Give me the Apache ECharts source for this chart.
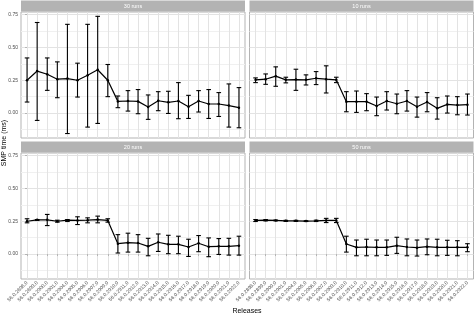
<!DOCTYPE html>
<html>
<head>
<meta charset="utf-8">
<script src="https://cdn.jsdelivr.net/npm/echarts@6/dist/echarts.min.js"></script>
<style>
  html, body { margin: 0; padding: 0; background: #ffffff; }
  #chart { width: 474px; height: 325px; }
</style>
</head>
<body>
<div id="chart"></div>
<script>
// Release builds on the x axis
const releases = [
  '56.0.2898.0', '56.0.2899.0', '56.0.2900.0', '56.0.2901.0', '56.0.2904.0',
  '56.0.2905.0', '56.0.2906.0', '56.0.2907.0', '56.0.2909.0', '56.0.2910.0',
  '56.0.2911.0', '56.0.2912.0', '56.0.2913.0', '56.0.2914.0', '56.0.2915.0',
  '56.0.2916.0', '56.0.2917.0', '56.0.2918.0', '56.0.2919.0', '56.0.2920.0',
  '56.0.2921.0', '56.0.2922.0'
];

const panelTitles = ['30 runs', '10 runs', '20 runs', '50 runs'];

const yTicks = [0, 0.25, 0.5, 0.75];
const yMinorTicks = [-0.125, 0.125, 0.375, 0.625];

// 30 runs
const mean30 = [0.25, 0.32, 0.296, 0.258, 0.263, 0.25, 0.288, 0.33, 0.25, 0.089, 0.092, 0.089, 0.046, 0.094, 0.082, 0.092, 0.048, 0.092, 0.069, 0.069, 0.057, 0.041];
const low30  = [0.084, -0.056, 0.173, 0.117, -0.156, 0.122, -0.107, -0.079, 0.125, 0.041, 0.015, -0.005, -0.048, 0.018, -0.003, -0.043, -0.041, 0.008, -0.041, -0.026, -0.107, -0.112];
const high30 = [0.42, 0.69, 0.42, 0.39, 0.676, 0.38, 0.676, 0.737, 0.37, 0.13, 0.171, 0.179, 0.138, 0.163, 0.166, 0.232, 0.135, 0.171, 0.179, 0.156, 0.222, 0.194];

// 10 runs
const mean10 = [0.253, 0.258, 0.281, 0.253, 0.255, 0.253, 0.265, 0.258, 0.253, 0.087, 0.087, 0.087, 0.054, 0.092, 0.071, 0.092, 0.048, 0.084, 0.036, 0.066, 0.061, 0.064];
const low10  = [0.232, 0.219, 0.204, 0.230, 0.173, 0.214, 0.217, 0.153, 0.232, 0.010, 0.005, 0.018, -0.020, 0.023, -0.005, 0.015, -0.031, 0.010, -0.046, 0.0, -0.013, -0.015];
const high10 = [0.268, 0.298, 0.352, 0.273, 0.334, 0.291, 0.316, 0.36, 0.273, 0.163, 0.168, 0.148, 0.122, 0.163, 0.145, 0.171, 0.122, 0.156, 0.117, 0.130, 0.125, 0.145];

// 20 runs
const mean20 = [0.25, 0.261, 0.261, 0.25, 0.258, 0.256, 0.258, 0.263, 0.256, 0.079, 0.087, 0.084, 0.059, 0.090, 0.074, 0.074, 0.054, 0.082, 0.056, 0.059, 0.059, 0.064];
const low20  = [0.238, 0.256, 0.217, 0.243, 0.248, 0.225, 0.238, 0.238, 0.243, 0.008, 0.015, 0.015, -0.013, 0.020, 0.003, 0.003, -0.018, 0.018, -0.020, -0.003, -0.008, -0.008];
const high20 = [0.269, 0.263, 0.302, 0.258, 0.263, 0.284, 0.276, 0.289, 0.269, 0.148, 0.159, 0.148, 0.120, 0.153, 0.143, 0.136, 0.113, 0.141, 0.123, 0.118, 0.120, 0.136];

// 50 runs
const mean50 = [0.256, 0.258, 0.256, 0.253, 0.253, 0.251, 0.253, 0.256, 0.256, 0.077, 0.051, 0.054, 0.051, 0.051, 0.064, 0.054, 0.049, 0.056, 0.051, 0.051, 0.051, 0.051];
const low50  = [0.248, 0.253, 0.253, 0.249, 0.249, 0.248, 0.248, 0.240, 0.240, 0.015, -0.013, -0.013, -0.013, -0.010, 0.005, -0.013, -0.015, -0.005, -0.013, -0.010, -0.013, 0.018];
const high50 = [0.263, 0.263, 0.259, 0.257, 0.257, 0.254, 0.258, 0.272, 0.272, 0.136, 0.107, 0.113, 0.107, 0.107, 0.128, 0.115, 0.107, 0.115, 0.113, 0.105, 0.102, 0.079];

const panelData = [
  { mean: mean30, low: low30, high: high30 },
  { mean: mean10, low: low10, high: high10 },
  { mean: mean20, low: low20, high: high20 },
  { mean: mean50, low: low50, high: high50 }
];

// facet layout (pixels)
const panelW = 224, panelH = 126, stripH = 11;
const panelPos = [
  { left: 21,  top: 12 },
  { left: 249.5, top: 12 },
  { left: 21,  top: 153 },
  { left: 249.5, top: 153 }
];

const borderGrey = '#b3b3b3';
const gridMajor = '#e3e3e3';
const gridMinor = '#f0f0f0';
const labelGrey = '#4d4d4d';
const fontFamily = 'Liberation Sans, Arial, sans-serif';

const xIdx = releases.map((_, i) => i);

const grids = [], xAxes = [], yAxes = [], series = [], graphics = [];

panelPos.forEach((p, g) => {
  const isBottom = g >= 2;
  const isLeft = g % 2 === 0;

  grids.push({
    left: p.left, top: p.top, width: panelW, height: panelH,
    show: true, borderColor: borderGrey, borderWidth: 1, backgroundColor: '#ffffff'
  });

  xAxes.push({
    type: 'value', gridIndex: g,
    min: -0.6, max: releases.length - 1 + 0.6,
    axisLine: { show: false },
    axisTick: { show: isBottom, length: 2, lineStyle: { color: borderGrey }, customValues: xIdx },
    axisLabel: {
      show: isBottom, customValues: xIdx, rotate: 45, margin: 3,
      fontSize: 5, color: labelGrey, fontFamily: fontFamily,
      formatter: v => releases[Math.round(v)]
    },
    splitLine: { show: true, lineStyle: { color: gridMajor, width: 1 } }
  });

  // major y grid + labels
  yAxes.push({
    type: 'value', gridIndex: g, min: -0.19, max: 0.77,
    axisLine: { show: false },
    axisTick: { show: isLeft, length: 2, lineStyle: { color: borderGrey }, customValues: yTicks },
    axisLabel: {
      show: isLeft, customValues: yTicks, margin: 3,
      fontSize: 5, color: labelGrey, fontFamily: fontFamily,
      formatter: v => v.toFixed(2)
    },
    splitLine: { show: true, lineStyle: { color: gridMajor, width: 1 } }
  });
  // minor y grid
  yAxes.push({
    type: 'value', gridIndex: g, min: -0.19, max: 0.77, position: 'left',
    axisLine: { show: false },
    axisTick: { show: false, customValues: yMinorTicks },
    axisLabel: { show: false, customValues: yMinorTicks },
    splitLine: { show: true, lineStyle: { color: gridMinor, width: 1 } }
  });

  const d = panelData[g];

  series.push({
    type: 'custom', xAxisIndex: g, yAxisIndex: 2 * g, z: 3,
    encode: { x: 0, y: [1, 2] },
    data: xIdx.map(i => [i, d.low[i], d.high[i]]),
    renderItem: (params, api) => {
      const x = api.value(0);
      const lo = api.coord([x, api.value(1)]);
      const hi = api.coord([x, api.value(2)]);
      const w = 2.3;
      const st = { stroke: '#000000', lineWidth: 1.1 };
      return {
        type: 'group',
        children: [
          { type: 'line', shape: { x1: lo[0], y1: lo[1], x2: hi[0], y2: hi[1] }, style: st },
          { type: 'line', shape: { x1: lo[0] - w, y1: lo[1], x2: lo[0] + w, y2: lo[1] }, style: st },
          { type: 'line', shape: { x1: hi[0] - w, y1: hi[1], x2: hi[0] + w, y2: hi[1] }, style: st }
        ]
      };
    }
  });

  series.push({
    type: 'line', xAxisIndex: g, yAxisIndex: 2 * g, z: 4,
    data: xIdx.map(i => [i, d.mean[i]]),
    symbol: 'circle', symbolSize: 2.5,
    itemStyle: { color: '#000000' },
    lineStyle: { color: '#000000', width: 1.2 },
    animation: false
  });

  // facet strip
  graphics.push({
    type: 'rect',
    shape: { x: p.left, y: p.top - stripH - 0.5, width: panelW, height: stripH },
    style: { fill: borderGrey }
  });
  graphics.push({
    type: 'text',
    x: p.left + panelW / 2, y: p.top - stripH / 2 - 0.5,
    style: {
      text: panelTitles[g], fill: '#ffffff', fontSize: 5.5, fontFamily: fontFamily,
      align: 'center', verticalAlign: 'middle'
    }
  });
});

// axis titles
graphics.push({
  type: 'text', x: 247, y: 311,
  style: { text: 'Releases', fill: '#000000', fontSize: 7, fontFamily: fontFamily, align: 'center', verticalAlign: 'middle' }
});
graphics.push({
  type: 'text', x: 4.5, y: 143, rotation: Math.PI / 2,
  style: { text: 'SMP time (ms)', fill: '#000000', fontSize: 7, fontFamily: fontFamily, align: 'center', verticalAlign: 'middle' }
});

const chart = echarts.init(document.getElementById('chart'), null, { renderer: 'canvas' });
chart.setOption({
  animation: false,
  backgroundColor: '#ffffff',
  grid: grids,
  xAxis: xAxes,
  yAxis: yAxes,
  series: series,
  graphic: graphics
});
</script>
</body>
</html>
